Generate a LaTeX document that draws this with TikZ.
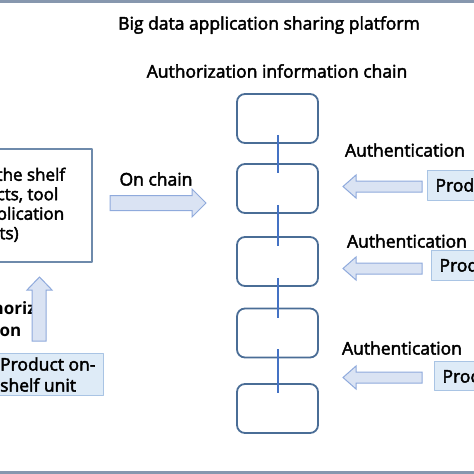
\documentclass[tikz,border=0pt]{standalone}
\usepackage{fontspec}
\setmainfont{Open Sans}
\usetikzlibrary{positioning}
\definecolor{chainblue}{HTML}{4A6D96}
\definecolor{linkblue}{HTML}{4472C4}
\definecolor{arrowfill}{HTML}{DAE3F3}
\definecolor{arrowline}{HTML}{8FAADC}
\definecolor{unitfill}{HTML}{DEEBF7}
\definecolor{unitline}{HTML}{A9C4E4}
\definecolor{bandgray}{HTML}{8797AE}
\newcommand\thicktext{\special{pdf:literal direct 2 Tr 0.45 w}}
\tikzset{
  block/.style={draw=chainblue, line width=1.8pt, rounded corners=8pt, minimum width=81pt, minimum height=49pt},
  link/.style={draw=linkblue, line width=2pt},
  fatarrow/.style={fill=arrowfill, draw=arrowline, line width=1pt, line join=miter},
  unit/.style={fill=unitfill, draw=unitline, line width=1pt, font=\fontsize{17.5}{21}\selectfont\thicktext, inner xsep=8pt},
  lbl/.style={font=\fontsize{17.5}{21}\selectfont\thicktext, inner sep=0pt}
}
\begin{document}
\begin{tikzpicture}[x=1pt, y=-1pt, line join=round]
			\useasboundingbox (0,0) rectangle (474,474);
			\clip (0,0) rectangle (474,474);
			\fill[bandgray] (0,0) rectangle (474,3);
			\fill[bandgray] (0,471) rectangle (474,474);
			% chain blocks
			\foreach \i/\y in {1/118.5, 2/188.5, 3/261.5, 4/333, 5/408.5} {
				\node[block] (blk\i) at (277.5,\y) {};
			}
			\foreach \a/\b in {1/2, 2/3, 3/4, 4/5} {
				\draw[link] ([yshift=9pt]blk\a.south) -- ([yshift=-10pt]blk\b.north);
			}
			\node[lbl] (title) at (269,25) {Big data application sharing platform};
			\node[lbl] (chain) at (277,71) {Authorization information chain};
			% left side
			\node[draw=chainblue!80, line width=1.8pt, minimum width=222pt, minimum height=113pt, align=center,
				font=\fontsize{17}{19.5}\selectfont\thicktext] (shelf) at (-19,205.5)
				{Products on the shelf\\(data products, tool\\products, application\\products)};
			\node[lbl, font=\fontsize{17}{22}\selectfont\bfseries, align=center] (auth) at (-1,319) {Authoriz\\ation};
			\node[unit, anchor=east, align=left] (unit) at (104,374.5) {Product on-\\shelf unit};
			\draw[fatarrow] (32,341) -- (32,290) -- (27,290) -- (39.5,277) -- (52,290) -- (46,290) -- (46,341) -- cycle;
			\node[lbl] (onchain) at (156,179) {On chain};
			\draw[fatarrow] (110,195.5) -- (192,195.5) -- (192,189) -- (206,203) -- (192,217) -- (192,210.5) -- (110,210.5) -- cycle;
			% right side
			\foreach \n/\x/\y/\t in {1/405/150/186.5, 2/407/241/268.5, 3/402/348/377.5} {
				\node[lbl] (authn\n) at (\x,\y) {Authentication};
				\draw[fatarrow] (422,\t-5.5) -- (356,\t-5.5) -- (356,\t-11.5) -- (343,\t) -- (356,\t+11.5) -- (356,\t+5.5) -- (422,\t+5.5) -- cycle;
			}
			\node[unit, anchor=west, minimum height=30pt, minimum width=80pt, align=left] (prod1) at (427,185) {Product};
			\node[unit, anchor=west, minimum height=30pt, minimum width=80pt, align=left] (prod2) at (431,265) {Product};
			\node[unit, anchor=west, minimum height=29pt, minimum width=80pt, align=left] (prod3) at (434,376) {Product};
		\end{tikzpicture}
\end{document}
